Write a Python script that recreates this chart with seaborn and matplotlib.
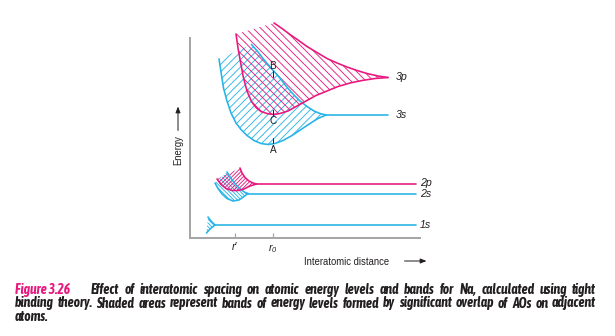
import numpy as np
import pandas as pd
import matplotlib
matplotlib.use("Agg")
import matplotlib.pyplot as plt
import seaborn as sns
from matplotlib import font_manager as fm

# ---------------- data (arbitrary units: interatomic distance d, energy E) ----------------
s3_low_d = [29, 31, 33.5, 37, 41, 46, 51, 57, 64, 71, 78, 85, 93, 102, 111, 120, 128, 136]
s3_low_e = [179, 166, 150, 137, 125, 115, 108.5, 102.5, 97.5, 94.5, 93.5, 94.5, 97.5, 102.5, 108.5, 114.5, 119.5, 123]
s3_up_d = [61.5, 68, 75, 82, 89, 96, 103, 110, 117, 124, 130, 136]
s3_up_e = [193.5, 186, 177, 169, 161, 152, 144, 137, 131.5, 127, 124.5, 123]
s3_level_d = [136, 198]
s3_level_e = [123, 123]

p3_low_d = [46, 48, 50.5, 53.5, 57, 61.5, 66, 71, 77, 83, 90, 98, 107, 116, 126, 137, 148, 160, 172, 185, 198]
p3_low_e = [204, 190, 176, 160, 147, 136.5, 130.5, 126.5, 124.5, 123.5, 124.5, 127, 132, 137, 142.5, 147, 151.5, 155, 157.5, 159.5, 160.5]
p3_up_d = [84, 92, 100, 108, 117, 127, 137, 147, 157, 167, 177, 188, 198]
p3_up_e = [215, 209.5, 203.5, 198, 191.5, 185.5, 179.5, 175, 171, 167.5, 164.5, 162, 160.5]

s2_low_d = [25, 28, 32, 37, 43, 49, 54, 58]
s2_low_e = [55, 49.5, 44, 39.5, 37, 38, 41.5, 44.5]
s2_up_d = [37, 41, 46, 51, 55, 58]
s2_up_e = [66, 59.5, 53, 48.5, 45.5, 44.5]
s2_level_d = [58, 226]
s2_level_e = [44.5, 44.5]

p2_low_d = [27, 31, 36, 42, 48, 54, 60, 66.5]
p2_low_e = [59, 53.5, 49.5, 47.5, 47.5, 49, 52, 54]
p2_up_d = [50, 52, 55, 59, 63, 66.5]
p2_up_e = [70, 65, 60.5, 57, 55, 54]
p2_level_d = [66.5, 226]
p2_level_e = [54, 54]

s1_low_d = [16.5, 20, 25]
s1_low_e = [5, 9, 13]
s1_up_d = [18, 21, 25]
s1_up_e = [21, 17, 13]
s1_level_d = [25, 226]
s1_level_e = [13, 13]

level_labels = ["3p", "3s", "2p", "2s", "1s"]
level_label_d = [206, 206, 230, 230, 230]
level_label_e = [161, 123, 55, 44, 13]

r_prime = 45
r_zero = 83
mark_names = ["B", "C", "A"]
mark_tick_lo = [161, 123, 95]
mark_tick_hi = [167, 128, 100]
mark_label_e = [172, 117, 88]

x_tick_pos = [r_prime, r_zero]
x_tick_labels = ["r\u2032", r"$r_0$"]

caption_fig = "Figure 3.26"
caption_l1 = "Effect of interatomic spacing on atomic energy levels and bands for Na, calculated using tight"
caption_l2 = "binding theory. Shaded areas represent bands of energy levels formed by significant overlap of AOs on adjacent"
caption_l3 = "atoms."

# ---------------- style ----------------
CYAN = "#27b4e6"
MAG = "#e8187f"
GRAY = "#a6a6a6"
TXT = "#231f20"

sns.set_theme(style="white")
plt.rcParams["font.family"] = ["Liberation Sans", "DejaVu Sans"]
plt.rcParams["mathtext.fontset"] = "custom"
plt.rcParams["mathtext.it"] = "Liberation Sans:italic"
plt.rcParams["mathtext.rm"] = "Liberation Sans:italic"
plt.rcParams["hatch.linewidth"] = 0.7

# condensed semibold/bold italic sans for the caption (like the book's caption face)
best = None
for fam, wt in [("Liberation Sans Narrow", 700), ("Archivo Narrow", 700),
                ("Asap Condensed", 600), ("Asap Condensed", 700)]:
    for f in fm.fontManager.ttflist:
        if f.name == fam and f.style in ("italic", "oblique") and f.weight == wt:
            best = f
            break
    if best:
        break
CAP_PROPS = dict(fontproperties=fm.FontProperties(fname=best.fname)) if best else \
    dict(family=["Liberation Sans", "DejaVu Sans"], weight="bold", style="italic")

W, H = 615, 336
DPI = 90
fig = plt.figure(figsize=(W / DPI, H / DPI), dpi=DPI)
fig.patch.set_facecolor("white")


def fx(px):
    return px / W


def fy(py):
    return 1 - py / H


ax = fig.add_axes([fx(190), fy(238), 250 / W, 220 / H])
ax.set_xlim(0, 250)
ax.set_ylim(0, 220)
ax.set_facecolor("none")


def band(ld, le, ud, ue, color, hatch):
    xs = np.r_[ld, ud[::-1]]
    ys = np.r_[le, ue[::-1]]
    ax.fill(xs, ys, facecolor="none", edgecolor=color, hatch=hatch, linewidth=0, zorder=1)


def curve(d, e, color, lw=1.3):
    df = pd.DataFrame({"d": d, "E": e})
    sns.lineplot(data=df, x="d", y="E", ax=ax, color=color, lw=lw, sort=False,
                 estimator=None, zorder=3)


band(s3_low_d, s3_low_e, s3_up_d, s3_up_e, CYAN, "////")
band(s2_low_d, s2_low_e, s2_up_d, s2_up_e, CYAN, "\\" * 8)
band(s1_low_d, s1_low_e, s1_up_d, s1_up_e, CYAN, "\\" * 8)
for d, e in [(s3_low_d, s3_low_e), (s3_up_d, s3_up_e), (s3_level_d, s3_level_e),
             (s2_low_d, s2_low_e), (s2_up_d, s2_up_e), (s2_level_d, s2_level_e),
             (s1_low_d, s1_low_e), (s1_up_d, s1_up_e), (s1_level_d, s1_level_e)]:
    curve(d, e, CYAN)

band(p3_low_d, p3_low_e, p3_up_d, p3_up_e, MAG, "\\\\\\\\")
band(p2_low_d, p2_low_e, p2_up_d, p2_up_e, MAG, "/" * 8)
for d, e in [(p3_low_d, p3_low_e), (p3_up_d, p3_up_e),
             (p2_low_d, p2_low_e), (p2_up_d, p2_up_e), (p2_level_d, p2_level_e)]:
    curve(d, e, MAG)

for lab, d, e in zip(level_labels, level_label_d, level_label_e):
    ax.text(d, e, lab, fontsize=8.5, style="italic", color=TXT, ha="left",
            va="center", clip_on=False)

for name, lo, hi, le in zip(mark_names, mark_tick_lo, mark_tick_hi, mark_label_e):
    ax.plot([r_zero, r_zero], [lo, hi], color=TXT, lw=0.8, zorder=4)
    ax.text(r_zero, le, name, fontsize=8, color=TXT, ha="center", va="center", zorder=5)

for s in ["top", "right"]:
    ax.spines[s].set_visible(False)
for s in ["left", "bottom"]:
    ax.spines[s].set_color(GRAY)
    ax.spines[s].set_linewidth(1.6)
ax.spines["left"].set_bounds(0, 200)
ax.spines["bottom"].set_bounds(0, 230)
ax.set_yticks([])
ax.set_xticks(x_tick_pos)
ax.set_xticklabels(x_tick_labels, fontstyle="italic")
ax.tick_params(axis="x", direction="in", length=4, width=1, color=GRAY, pad=3,
               labelsize=8.5, labelcolor=TXT, bottom=True)
ax.set_xlabel("")
ax.set_ylabel("")

fig.text(fx(347), fy(262), "Interatomic distance", fontsize=7.6, color=TXT,
         ha="center", va="center")
fig.add_artist(matplotlib.patches.FancyArrowPatch(
    (fx(402), fy(261)), (fx(429), fy(261)), transform=fig.transFigure,
    arrowstyle="-|>,head_length=4,head_width=1.6", color=TXT, lw=0.8))
fig.text(fx(178), fy(150), "Energy", fontsize=7.6, color=TXT, rotation=90,
         ha="center", va="center")
fig.add_artist(matplotlib.patches.FancyArrowPatch(
    (fx(178), fy(133)), (fx(178), fy(104)), transform=fig.transFigure,
    arrowstyle="-|>,head_length=4,head_width=1.6", color=TXT, lw=0.8))

# ---- caption: justified lines, word by word ----
renderer = fig.canvas.get_renderer()


def text_w(s, fs):
    t = fig.text(0, 0, s, fontsize=fs, **CAP_PROPS)
    w = t.get_window_extent(renderer).width
    t.remove()
    return w


fit_fs = 8 * 580 / text_w(caption_l2, 8)
cap_fs = fit_fs * 0.95
cap_kw = dict(fontsize=cap_fs, va="center", ha="left", **CAP_PROPS)


def justified(line, x0, x1, ypx, color=TXT):
    words = line.split(" ")
    widths = [text_w(w, cap_fs) for w in words]
    gap = (x1 - x0 - sum(widths)) / max(len(words) - 1, 1)
    x = x0
    for w, wd in zip(words, widths):
        fig.text(fx(x), fy(ypx), w, color=color, **cap_kw)
        x += wd + gap


fig.text(fx(15), fy(290), caption_fig, color=MAG, **cap_kw)
justified(caption_l1, 91, 596, 290)
justified(caption_l2, 15, 596, 303.5)
fig.text(fx(15), fy(317), caption_l3, color=TXT, **cap_kw)

fig.savefig("out.png", dpi=DPI, facecolor="white")
